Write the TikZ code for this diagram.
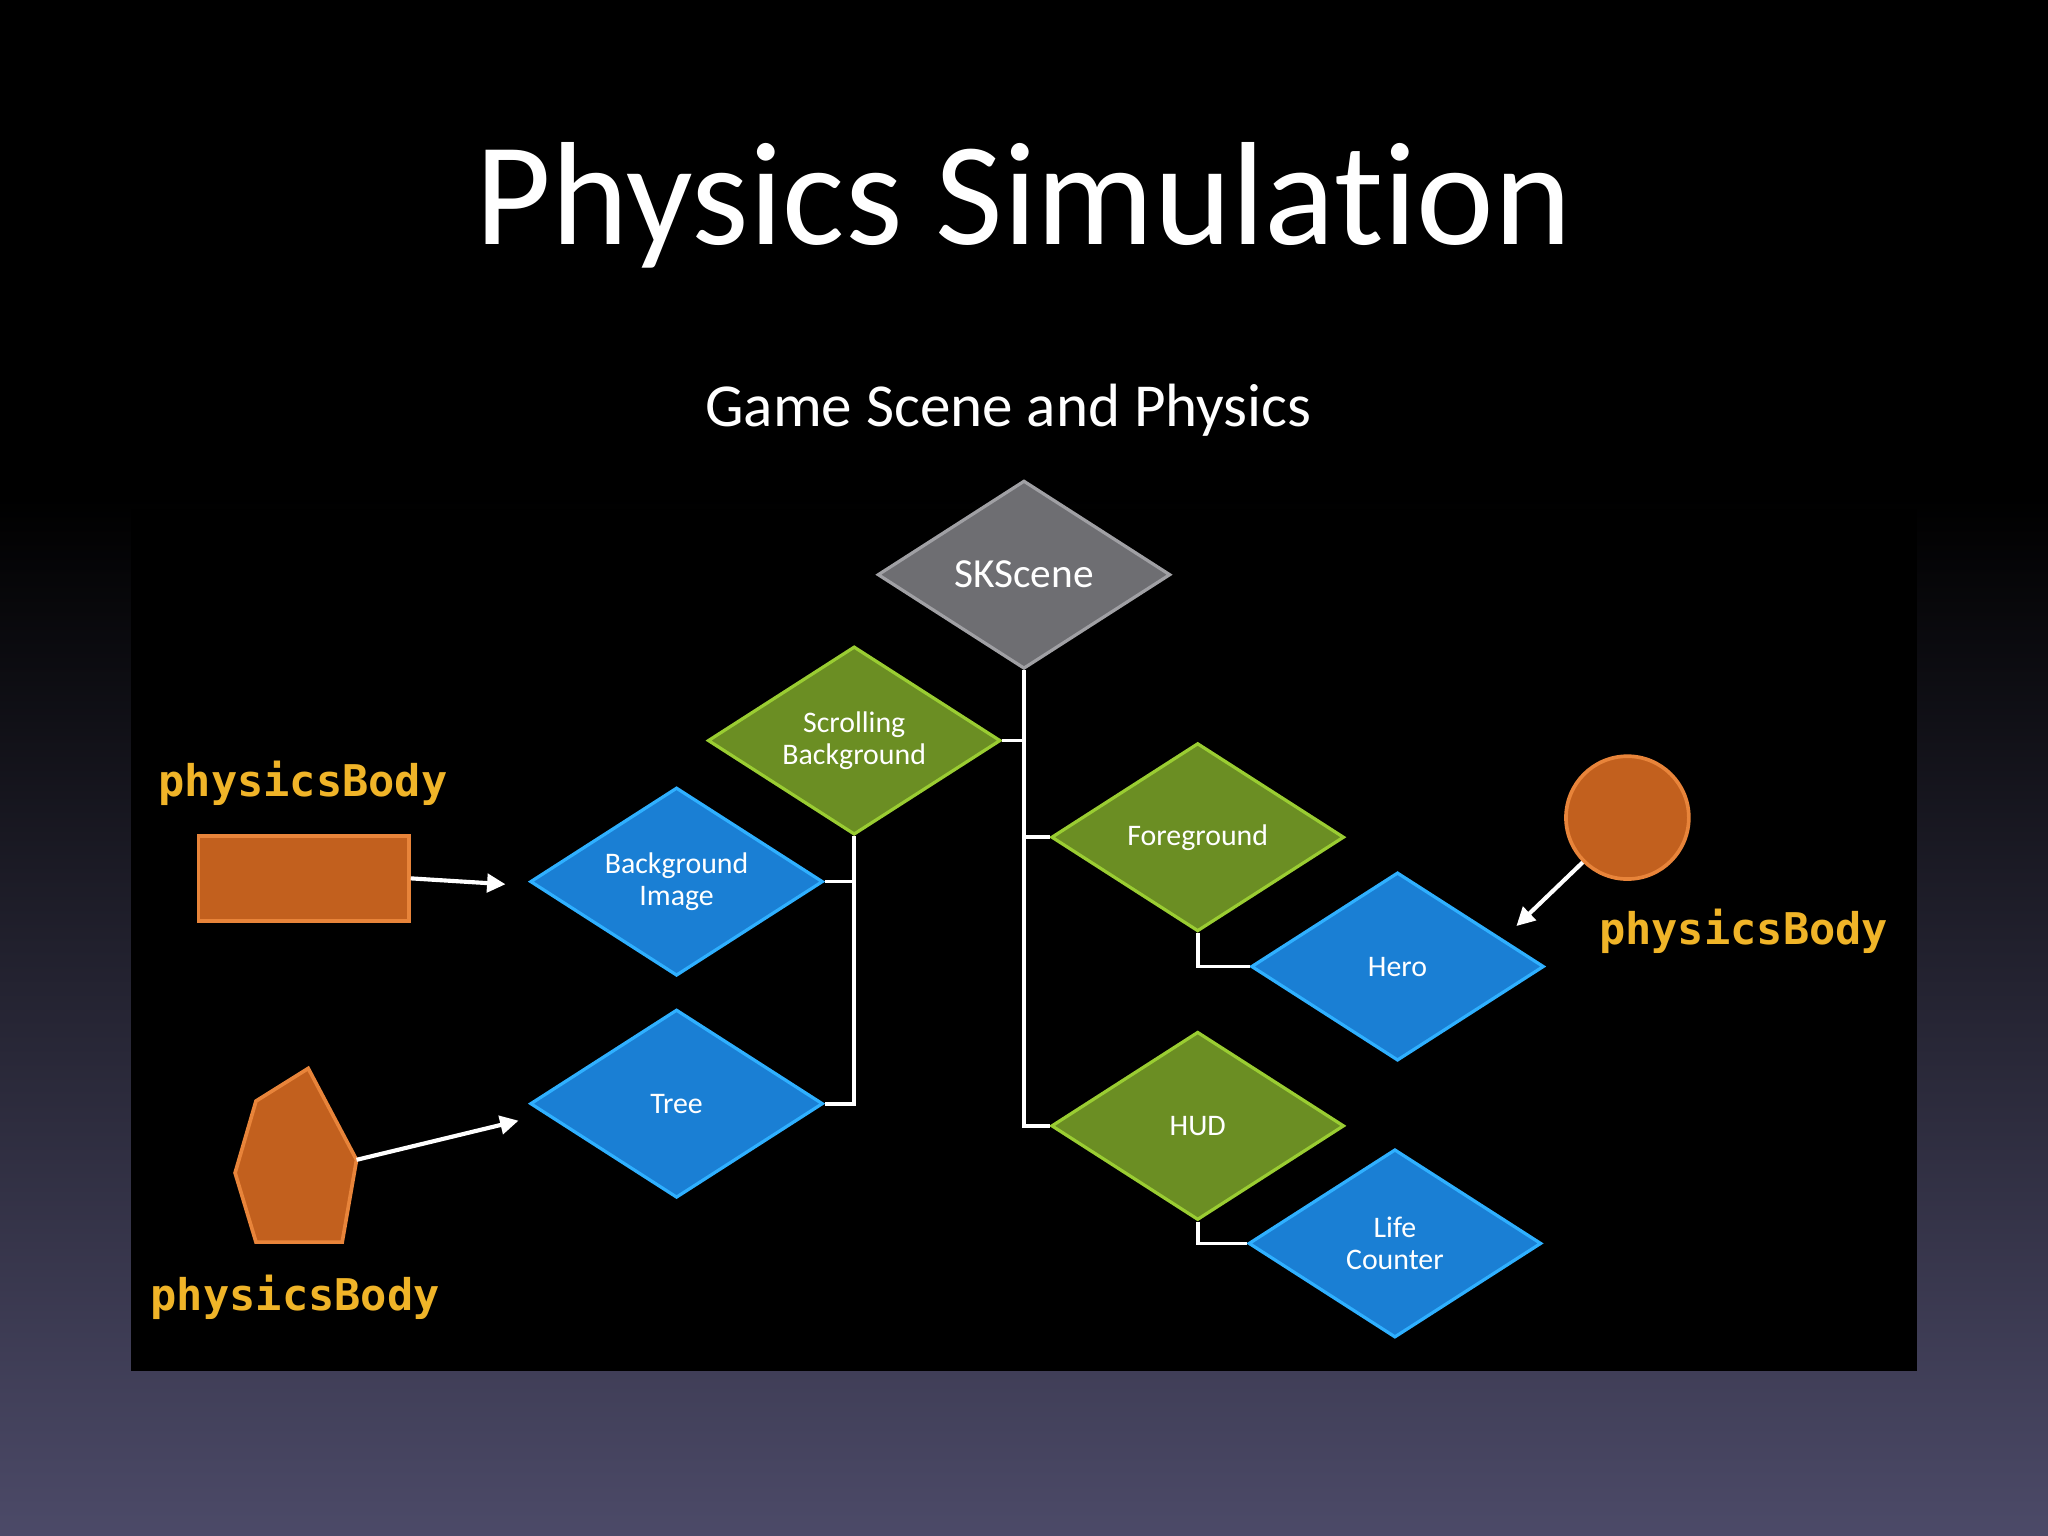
\documentclass[tikz,border=0pt]{standalone}
\usepackage{fontspec}
\setmainfont[RawFeature=-liga]{Carlito}
\newfontfamily\codefont{DejaVu Sans Mono}
\usetikzlibrary{shapes.geometric,arrows.meta}
\definecolor{gbot}{HTML}{4C4A68}
\definecolor{orng}{HTML}{C2601E}
\definecolor{orbd}{HTML}{E8843A}
\definecolor{pbody}{HTML}{F0B428}
\definecolor{grn}{HTML}{6B8E23}
\definecolor{grnbd}{HTML}{9ACD32}
\definecolor{blu}{HTML}{1A7FD4}
\definecolor{blubd}{HTML}{2FB0FF}
\definecolor{gry}{HTML}{6E6E72}
\definecolor{grybd}{HTML}{A0A0A4}
\tikzset{
 dia/.style={diamond,aspect=1.55,minimum width=2.24cm,minimum height=1.44cm,inner sep=0pt,line width=0.7pt,text=white,align=center,font=\fontsize{6.5}{7}\selectfont},
 gdia/.style={dia,fill=grn,draw=grnbd},
 bdia/.style={dia,fill=blu,draw=blubd},
 link/.style={draw=white,line width=0.8pt},
 arr/.style={draw=white,line width=0.9pt,-{Triangle[length=4pt,width=4pt]}},
 pb/.style={text=pbody,font=\codefont\bfseries\fontsize{9.5}{10}\selectfont},
 shp/.style={fill=orng,draw=orbd,line width=0.8pt}
}
\begin{document}
\begin{tikzpicture}[x=0.01cm,y=-0.01cm]
\useasboundingbox (0,0) rectangle (1568,1176);
\fill[black] (0,0) rectangle (1568,1176);
\shade[top color=black,bottom color=gbot] (0,380) rectangle (1568,1176);
\fill[black] (100,390) rectangle (1468,1050);
\node[text=white,font=\fontsize{32}{36}\selectfont] (title) at (784,157) {Physics Simulation};
\node[text=white,font=\fontsize{13.3}{16}\selectfont] (sub) at (772,314) {Game Scene and Physics};

\node[dia,fill=gry,draw=grybd,font=\fontsize{9}{10}\selectfont] (sk) at (784,440) {SKScene};
\node[gdia] (sb) at (654,567) {Scrolling\\Background};
\node[bdia] (bi) at (518,675) {Background\\Image};
\node[bdia] (tr) at (518,845) {Tree};
\node[gdia] (fg) at (917,641) {Foreground};
\node[bdia] (he) at (1070,740) {Hero};
\node[gdia] (hud) at (917,862) {HUD};
\node[bdia] (lc) at (1068,952) {Life\\Counter};

\draw[link] (sk.south) |- (hud.west);
\draw[link] (sk.south |- sb.east) -- (sb.east);
\draw[link] (sk.south |- fg.west) -- (fg.west);
\draw[link] (sb.south) |- (tr.east);
\draw[link] (sb.south |- bi.east) -- (bi.east);
\draw[link] (fg.south) |- (he.west);
\draw[link] (hud.south) |- (lc.west);

\node[shp,minimum width=1.61cm,minimum height=0.65cm,inner sep=0pt] (rect) at (232.5,672.5) {};
\coordinate (ra) at (387,677);
\draw[arr] (rect.east) -- (ra);
\draw[shp] (236,818) -- (273,888) -- (262,951) -- (196,951) -- (180,898) -- (196,843) -- cycle;
\coordinate (pp) at (273,888);
\coordinate (pa) at (397,858);
\draw[arr] (pp) -- (pa);
\node[shp,circle,minimum size=0.94cm,inner sep=0pt] (circ) at (1246,626) {};
\coordinate (ca) at (1161,709);
\draw[arr] (circ.225) -- (ca);

\node[pb] (l1) at (232,600) {physicsBody};
\node[pb] (l2) at (226,993) {physicsBody};
\node[pb] (l3) at (1335,713) {physicsBody};
\end{tikzpicture}
\end{document}
